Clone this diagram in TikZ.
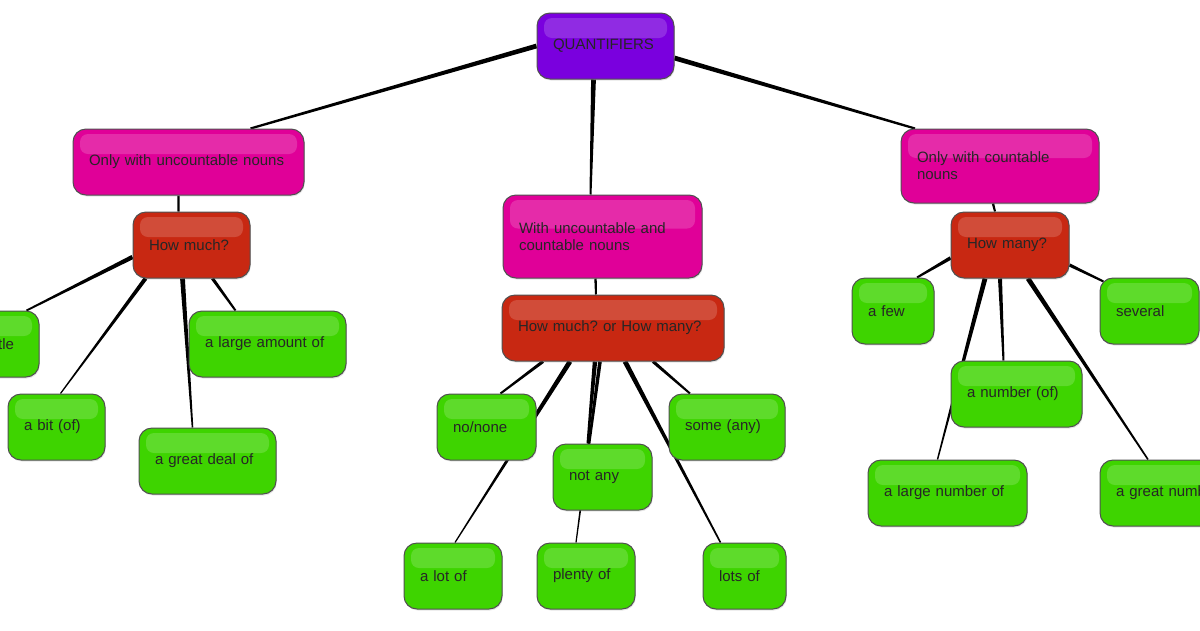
\documentclass[tikz,border=0pt]{standalone}
\usepackage{fontspec}
\setmainfont{Liberation Sans}
\usetikzlibrary{calc,backgrounds,shadows}

\definecolor{quantpurple}{RGB}{122,0,222}
\definecolor{nounpink}{RGB}{224,0,152}
\definecolor{askred}{RGB}{200,40,18}
\definecolor{wordgreen}{RGB}{62,212,0}
\definecolor{boxedge}{RGB}{80,80,80}

\newcommand{\branch}[4]{%
  \path #1 coordinate (bA) #2 coordinate (bB);
  \fill[black] ($(bA)!#3!90:(bB)$) -- ($(bB)!#4!-90:(bA)$) -- ($(bB)!#4!90:(bA)$) -- ($(bA)!#3!-90:(bB)$) -- cycle;
}

\begin{document}
\frenchspacing
\begin{tikzpicture}[x=1pt,y=-1pt,
  gloss/.style={rounded corners=13pt, draw=boxedge, line width=1pt, text=black!85,
    align=left, inner xsep=16pt, inner ysep=0pt, minimum height=66pt,
    font=\fontsize{15}{17}\selectfont,
    drop shadow={opacity=0.2, shadow xshift=0.8pt, shadow yshift=-1.5pt},
    path picture={\fill[white, opacity=0.17, rounded corners=8pt]
      ($(path picture bounding box.north west)+(7,5)$) rectangle
      ($(path picture bounding box.east)+(-7,-8)$);}},
  qbox/.style={gloss, fill=quantpurple, text width=#1},
  pbox/.style={gloss, fill=nounpink, text width=#1},
  rbox/.style={gloss, fill=askred, text width=#1},
  gbox/.style={gloss, fill=wordgreen, text width=#1}]

\useasboundingbox (0,0) rectangle (1200,630);

\node[qbox=105pt] (q) at (605.5,46) {QUANTIFIERS};

\node[pbox=199pt] (unc) at (188.5,162) {Only with uncountable nouns};

\node[rbox=85pt] (hmuch) at (191.5,245) {How much?};

\node[gbox=49pt] (little) at (-1.5,344) {a little};

\node[gbox=65pt] (bit) at (56.5,427) {a bit (of)};

\node[gbox=105pt] (deal) at (207.5,461) {a great deal of};

\node[gbox=125pt] (amount) at (267.5,344) {a large amount of};

\node[pbox=167pt, minimum height=83pt] (both) at (602.5,236.5) {With uncountable and\\countable nouns};

\node[rbox=190pt] (hboth) at (613,328) {How much? or How many?};

\node[gbox=67pt] (none) at (486.5,427) {no/none};

\node[gbox=84pt] (some) at (727,427) {some (any)};

\node[gbox=67pt] (notany) at (602.5,477) {not any};

\node[gbox=66pt] (alot) at (453,576) {a lot of};

\node[gbox=66pt] (plenty) at (586,576) {plenty of};

\node[gbox=51pt] (lots) at (744.5,576) {lots of};

\node[pbox=166pt, minimum height=74pt] (cnt) at (1000,166) {Only with countable\\nouns};

\node[rbox=86pt] (hmany) at (1010,245) {How many?};

\node[gbox=50pt] (few) at (893,311) {a few};

\node[gbox=67pt] (several) at (1149.5,311) {several};

\node[gbox=99pt] (number) at (1016.5,394) {a number (of)};

\node[gbox=127pt] (largenum) at (947.5,493) {a large number of};

\node[gbox=148pt] (greatnum) at (1190,493) {a great number of};

\begin{scope}[on background layer]
\fill[white] (0,0) rectangle (1200,630);
\branch{(q.west)}{($(unc.north)+(62,0)$)}{2.4pt}{1.1pt}
\branch{($(q.south)+(-12,0)$)}{($(both.north)+(-12,0)$)}{2.4pt}{1pt}
\branch{($(q.east)+(0,12)$)}{($(cnt.north)+(-85,0)$)}{2.4pt}{1.1pt}
\branch{($(unc.south)+(-10,0)$)}{($(hmuch.north)+(-13,0)$)}{1.2pt}{1pt}
\branch{($(hmuch.west)+(0,12)$)}{($(little.north)+(28,0)$)}{2.2pt}{0.9pt}
\branch{($(hmuch.south)+(-46,0)$)}{($(bit.north)+(4,0)$)}{2pt}{0.6pt}
\branch{($(hmuch.south)+(-9,0)$)}{($(deal.north)+(-15,0)$)}{2.4pt}{0.8pt}
\branch{($(hmuch.south)+(21,0)$)}{($(amount.north)+(-32,0)$)}{1.6pt}{1pt}
\branch{($(both.south)+(-7,0)$)}{($(hboth.north)+(-17,0)$)}{1.2pt}{1pt}
\branch{($(hboth.south)+(-70,0)$)}{($(none.north)+(14,0)$)}{1.6pt}{1pt}
\branch{($(hboth.south)+(-43,0)$)}{($(alot.north)+(2,0)$)}{2.4pt}{0.6pt}
\branch{($(hboth.south)+(-18,0)$)}{($(notany.north)+(-15,0)$)}{2.2pt}{1pt}
\branch{($(hboth.south)+(-13,0)$)}{($(plenty.north)+(-10,0)$)}{1.8pt}{0.6pt}
\branch{($(hboth.south)+(12,0)$)}{($(lots.north)+(-24,0)$)}{2.4pt}{0.8pt}
\branch{($(hboth.south)+(40,0)$)}{($(some.north)+(-37,0)$)}{1.6pt}{1pt}
\branch{($(cnt.south)+(-7,0)$)}{($(hmany.north)+(-15,0)$)}{1.2pt}{1pt}
\branch{($(hmany.west)+(0,13)$)}{($(few.north)+(24,0)$)}{1.8pt}{1pt}
\branch{($(hmany.east)+(0,20)$)}{($(several.north west)+(4,4)$)}{1.6pt}{1pt}
\branch{($(hmany.south)+(-25,0)$)}{($(largenum.north)+(-10,0)$)}{2.4pt}{0.7pt}
\branch{($(hmany.south)+(-10,0)$)}{($(number.north)+(-13,0)$)}{2pt}{1pt}
\branch{($(hmany.south)+(18,0)$)}{($(greatnum.north)+(-42,0)$)}{2.4pt}{0.8pt}
\end{scope}

\end{tikzpicture}
\end{document}
